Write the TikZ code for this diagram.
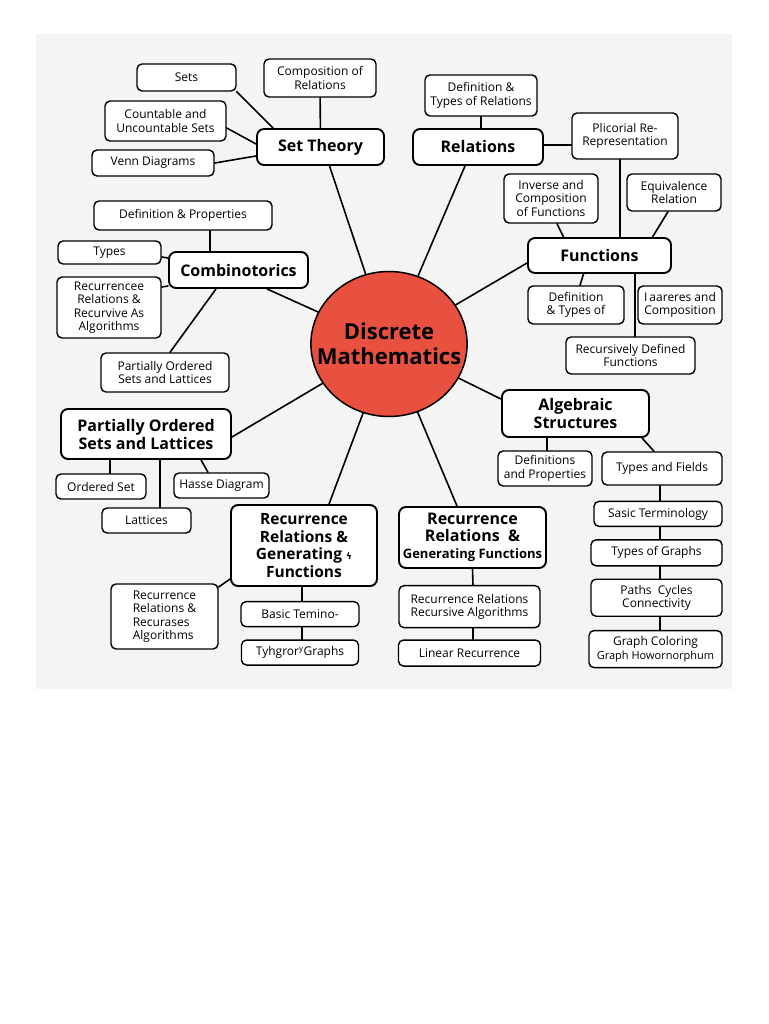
\documentclass[tikz,border=0pt]{standalone}
\usepackage{fontspec}
\setmainfont{Open Sans}
\newfontfamily\symfont{DejaVu Sans}
\usetikzlibrary{positioning, shapes}
\definecolor{bgpage}{HTML}{F4F4F2}
\definecolor{hubred}{HTML}{E8503F}
\tikzset{
    leaf/.style={draw, line width=1.4pt, rounded corners=5pt, fill=white, align=center, inner sep=2pt, font=\fontsize{12}{13.5}\selectfont}, % the small boxes
    topic/.style={leaf, line width=1.9pt, rounded corners=7pt, font=\fontsize{16}{18}\selectfont\bfseries}, % one box per branch
    hub/.style={ellipse, draw, line width=1.5pt, fill=hubred, minimum width=155pt, minimum height=145pt, inner xsep=-17pt, inner ysep=0pt, align=center, font=\fontsize{22}{25}\selectfont\bfseries}, % the red centre
    sz/.style 2 args={minimum width=#1pt, minimum height=#2pt}, % box size in pixels
    link/.style={line width=1.6pt, line cap=round}, % plain connectors
}

\begin{document}
\begin{tikzpicture}[x=1pt, y=-1pt]
    \useasboundingbox (0,0) rectangle (768,1024);
    \fill[bgpage] (36,34) rectangle (732,689);

    \node[hub] (dm) at (389,344) {Discrete\\Mathematics};

    % set theory
    \node[topic, sz={127}{36}] (sett) at (320.5,147) {Set Theory};
    \node[leaf, sz={99}{27}] (sets) at (186.5,77.5) {Sets};
    \node[leaf, sz={112}{38}] (comprel) at (320,78) {Composition of\\Relations};
    \node[leaf, sz={121}{40}] (count) at (165.5,121) {Countable and\\Uncountable Sets};
    \node[leaf, sz={122}{26}] (venn) at (153,163) {Venn Diagrams};

    % relations
    \node[topic, sz={130}{36}] (rel) at (478,147) {Relations};
    \node[leaf, sz={112}{41}] (defrel) at (481,95.5) {Definition \&\\Types of Relations};
    \node[leaf, sz={106}{46}] (plic) at (625,136) {Plicorial Re-\\Representation};

    % functions
    \node[topic, sz={143}{35}] (func) at (599.5,255.5) {Functions};
    \node[leaf, sz={94}{49}] (inv) at (551,198.5) {Inverse and\\Composition\\of Functions};
    \node[leaf, sz={94}{37}] (equiv) at (674,192.5) {Equivalence\\Relation};
    \node[leaf, sz={96}{38}] (deftyp) at (576,305) {Definition\\\& Types of};
    \node[leaf, sz={84}{38}] (iaar) at (680,305) {I\,aareres and\\Composition};
    \node[leaf, sz={129}{37}] (recdef) at (630.5,355.5) {Recursively Defined\\Functions};

    % combinotorics
    \node[topic, sz={139}{36}] (comb) at (238.5,270) {Combinotorics};
    \node[leaf, sz={178}{29}] (defprop) at (183,215.5) {Definition \& Properties};
    \node[leaf, sz={103}{23}] (types) at (109.5,252.5) {Types};
    \node[leaf, sz={104}{61}] (recee) at (109,307.5) {Recurrencee\\Relations \&\\Recurvive As\\Algorithms};
    \node[leaf, sz={128}{39}] (posets) at (165,372.5) {Partially Ordered\\Sets and Lattices};

    % posets
    \node[topic, sz={170}{50}] (poset) at (146,434) {Partially Ordered\\Sets and Lattices};
    \node[leaf, sz={90}{25}] (ordset) at (101,486.5) {Ordered Set};
    \node[leaf, sz={95}{25}] (hasse) at (221.5,485.5) {Hasse Diagram};
    \node[leaf, sz={89}{25}] (latt) at (146.5,520.5) {Lattices};

    % recurrence, left
    \node[topic, sz={146}{81}, font=\fontsize{15.5}{17.5}\selectfont\bfseries] (recl) at (304,545.5)
        {Recurrence\\Relations \&\\Generating {\symfont\small ϟ}\\Functions};
    \node[leaf, sz={107}{65}, align=left] (recsm) at (164.5,616.5) {Recurrence\\Relations \&\\Recurases\\Algorithms};
    \node[leaf, sz={118}{25}, below=14pt of recl, xshift=-4pt] (basic) {Basic Temino-};
    \node[leaf, sz={117}{25}, below=12pt of basic] (tyh) {Tyhgror\textsuperscript{y}Graphs};

    % recurrence, centre
    \node[topic, sz={147}{61}, font=\fontsize{16}{17}\selectfont\bfseries] (recc) at (472.5,537.5)
        {Recurrence\\Relations \ \&\\{\fontsize{13}{16}\selectfont Generating Functions}};
    \node[leaf, sz={141}{42}] (rrra) [below=16pt of recc, xshift=-3pt] {Recurrence Relations\\Recursive Algorithms};
    \node[leaf, sz={142}{26}] (linrec) [below=11pt of rrra] {Linear Recurrence};

    % algebraic structures and graphs
    \node[topic, sz={147}{47}] (alg) at (575.5,413.5) {Algebraic\\Structures};
    \node[leaf, sz={94}{35}] (defsp) at (545,468.5) {Definitions\\and Properties};
    \node[leaf, sz={120}{33}] (tfield) at (662,468.5) {Types and Fields};
    \node[leaf, sz={128}{25}, below=15pt of tfield, xshift=-4pt] (sasic) {Sasic Terminology};
    \node[leaf, sz={131}{26}, below=12pt of sasic, xshift=-1.5pt] (tgraph) {Types of Graphs};
    \node[leaf, sz={131}{37}, below=12pt of tgraph] (paths) {Paths\ \ Cycles\\Connectivity};
    \node[leaf, sz={133}{37}, below=13pt of paths, xshift=-1pt] (color) {Graph Coloring\\{\fontsize{11}{13}\selectfont Graph Howornorphum}};

    \path[link]
        (sets.south east) edge ([xshift=17pt]sett.north west)
        ([yshift=-7pt]count.east) edge ([yshift=3pt]sett.west)
        (venn.east) edge ([yshift=-9pt]sett.west)
        (comprel) edge (sett)
        ([xshift=9pt]sett.south) edge (dm)
        (defrel.south) edge ([xshift=3pt]rel.north)
        ([yshift=2pt]rel.east) edge ([yshift=-9pt]plic.west)
        ([xshift=-13pt]rel.south) edge (dm)
        ([xshift=-5pt]plic.south) edge ([xshift=20.5pt]func.north)
        ([xshift=6pt]inv.south) edge ([xshift=-36pt]func.north)
        ([xshift=-6pt]equiv.south) edge ([xshift=53pt]func.north)
        ([xshift=-16pt]func.south) edge ([xshift=4pt]deftyp.north)
        ([xshift=35.5pt]func.south) edge ([xshift=4.5pt]recdef.north)
        ([yshift=-7.5pt]func.west) edge (dm)
        ([xshift=27pt]defprop.south) edge ([xshift=-28.5pt]comb.north)
        ([yshift=-4.5pt]types.east) edge ([yshift=12pt]comb.west)
        ([yshift=20.5pt]recee.east) edge ([yshift=-16pt]comb.west)
        ([xshift=-22.5pt]comb.south) edge ([xshift=5pt]posets.north)
        ([xshift=28.5pt]comb.south) edge (dm)
        ([yshift=-3pt]poset.east) edge (dm)
        ([xshift=-36pt]poset.south) edge ([xshift=9pt]ordset.north)
        ([xshift=14pt]poset.south) edge ([xshift=13.5pt]latt.north)
        ([xshift=55pt]poset.south) edge ([xshift=-13.5pt]hasse.north)
        ([xshift=25pt]recl.north) edge (dm)
        ([yshift=-33.5pt]recl.west) edge ([yshift=29.5pt]recsm.east)
        ([xshift=-2pt]recl.south) edge ([xshift=2pt]basic.north)
        ([xshift=2pt]basic.south) edge ([xshift=2pt]tyh.north)
        ([xshift=-15.5pt]recc.north) edge (dm)
        (recc.south) edge ([xshift=3.5pt]rrra.north)
        ([xshift=3.5pt]rrra.south) edge ([xshift=3.5pt]linrec.north)
        ([yshift=14.5pt]alg.west) edge (dm)
        ([xshift=-28.5pt]alg.south) edge ([xshift=2pt]defsp.north)
        ([xshift=66.5pt]alg.south) edge ([xshift=-8pt]tfield.north)
        ([xshift=-2pt]tfield.south) edge ([xshift=2pt]sasic.north)
        ([xshift=2pt]sasic.south) edge ([xshift=3.5pt]tgraph.north)
        ([xshift=3.5pt]tgraph.south) edge ([xshift=3.5pt]paths.north)
        ([xshift=3.5pt]paths.south) edge ([xshift=4.5pt]color.north);
\end{tikzpicture}
\end{document}
